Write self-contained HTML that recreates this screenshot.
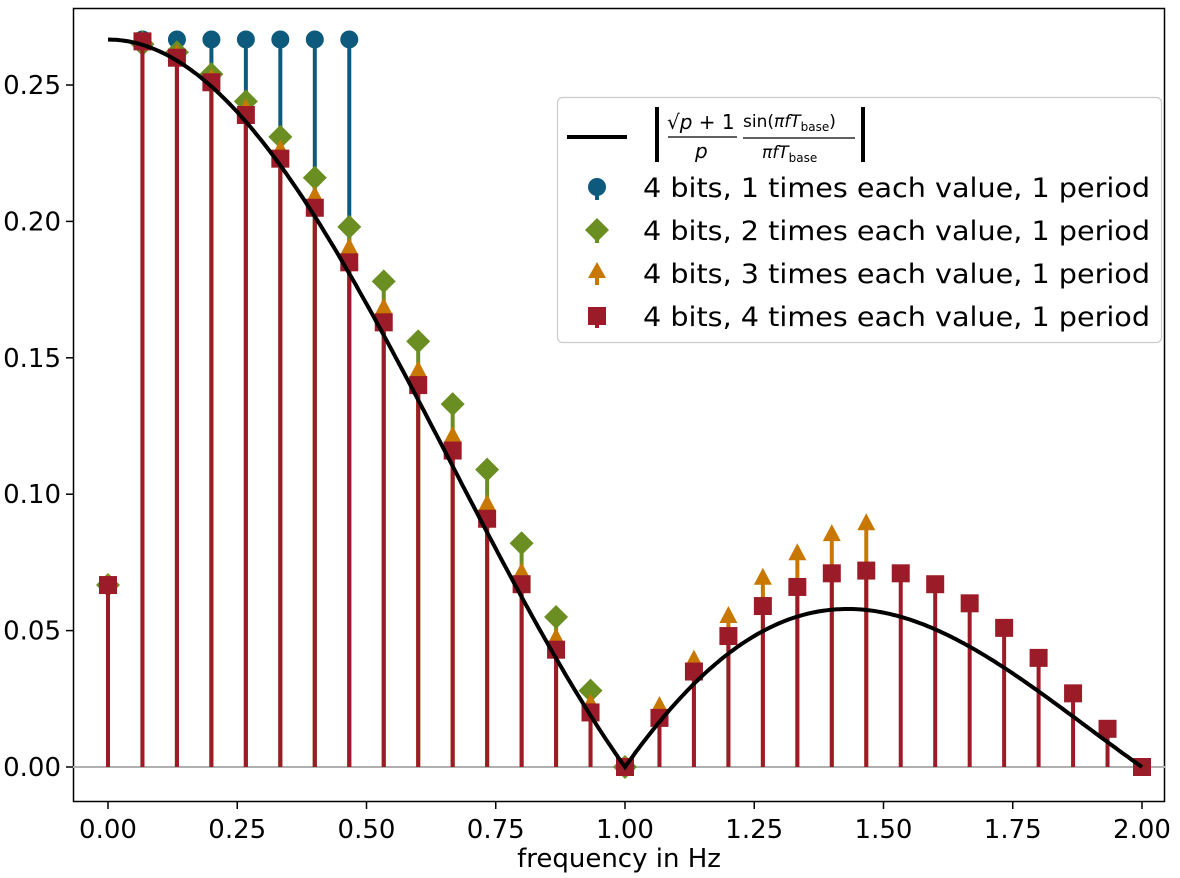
<!DOCTYPE html>
<html><head><meta charset="utf-8"><style>
body{margin:0;background:#fff;}
svg{display:block;font-family:"DejaVu Sans","Liberation Sans",sans-serif;}
</style></head><body>
<svg id="chart" width="1180" height="878" viewBox="0 0 1180 878">
<rect x="73.5" y="8.5" width="1091" height="793" fill="#fff" stroke="#000" stroke-width="1.5"/>
<g id="grid"></g>
<g id="series"></g>
<g id="axes"></g>
<text x="619" y="867" font-size="26" text-anchor="middle">frequency in Hz</text>
<g>
<rect x="557.5" y="97.5" width="604" height="245" rx="5" fill="#fff" stroke="#ccc" stroke-width="1.2"/>
<g>
<line x1="567" y1="137" x2="627" y2="137" stroke="#000" stroke-width="4"/>
<rect x="655" y="107" width="4" height="55" fill="#000"/>
<rect x="861" y="107" width="4" height="55" fill="#000"/>
<text x="667" y="129" font-size="20"><tspan font-size="20">√</tspan><tspan font-style="italic">p</tspan> + 1</text>
<line x1="668" y1="137" x2="737" y2="137" stroke="#000" stroke-width="1.3"/>
<text x="695" y="158" font-size="20" font-style="italic">p</text>
<text x="743" y="127" font-size="17">sin(<tspan font-style="italic">πfT</tspan><tspan font-size="12" dy="4">base</tspan><tspan dy="-4">)</tspan></text>
<line x1="743" y1="138" x2="855" y2="138" stroke="#000" stroke-width="1.3"/>
<text x="762" y="158" font-size="17" font-style="italic">πfT<tspan font-style="normal" font-size="12" dy="4">base</tspan></text>
</g>
<g>
<line x1="597" y1="188" x2="597" y2="200" stroke="#0d5a7c" stroke-width="4"/><circle cx="597" cy="187" r="9" fill="#0d5a7c"/>
<text x="643" y="197" font-size="27" textLength="507" lengthAdjust="spacingAndGlyphs">4 bits, 1 times each value, 1 period</text></g>
<g>
<line x1="597" y1="231" x2="597" y2="243" stroke="#6b8e23" stroke-width="4"/><polygon points="597,218 609,230 597,242 585,230" fill="#6b8e23"/>
<text x="643" y="240" font-size="27" textLength="507" lengthAdjust="spacingAndGlyphs">4 bits, 2 times each value, 1 period</text></g>
<g>
<line x1="597" y1="273" x2="597" y2="285" stroke="#c87800" stroke-width="4"/><polygon points="597,262 606,278 588,278" fill="#c87800"/>
<text x="643" y="283" font-size="27" textLength="507" lengthAdjust="spacingAndGlyphs">4 bits, 3 times each value, 1 period</text></g>
<g>
<line x1="597" y1="316" x2="597" y2="328" stroke="#9b1c28" stroke-width="4"/><rect x="588" y="307" width="18" height="18" fill="#9b1c28"/>
<text x="643" y="326" font-size="27" textLength="507" lengthAdjust="spacingAndGlyphs">4 bits, 4 times each value, 1 period</text></g>
</g>
</svg>
<script>
const xTicks=[0,0.25,0.5,0.75,1.0,1.25,1.5,1.75,2.0];
const yTicks=[0,0.05,0.10,0.15,0.20,0.25];
const freqStep=1/15;
const blueVals=[0.0667,0.2667,0.2667,0.2667,0.2667,0.2667,0.2667,0.2667];
const greenVals=[0.0667,0.265,0.262,0.254,0.244,0.231,0.216,0.198,0.178,0.156,0.133,0.109,0.082,0.055,0.028,0];
const orangeVals=[0.0667,0.266,0.261,0.252,0.241,0.226,0.209,0.190,0.168,0.145,0.121,0.096,0.071,0.047,0.023,0,0.022,0.039,0.055,0.069,0.078,0.085,0.089];
const redVals=[0.0667,0.266,0.260,0.251,0.239,0.223,0.205,0.185,0.163,0.140,0.116,0.091,0.067,0.043,0.020,0,0.018,0.035,0.048,0.059,0.066,0.071,0.072,0.071,0.067,0.060,0.051,0.040,0.027,0.014,0];
const pBits=15;
const NS='http://www.w3.org/2000/svg';
const X=v=>108+v*517, Y=v=>767-v*2728;
function mk(tag,attrs,parent){const e=document.createElementNS(NS,tag);for(const k in attrs)e.setAttribute(k,attrs[k]);parent.appendChild(e);return e;}
const axes=document.getElementById('axes'), ser=document.getElementById('series'), grid=document.getElementById('grid');
const base=mk('line',{x1:73,x2:1165,y1:Y(0),y2:Y(0),stroke:'#b0b0b0','stroke-width':2},grid);


xTicks.forEach(t=>{
 const g=mk('g',{},axes);
 
 
 mk('line',{x1:X(t),x2:X(t),y1:802,y2:809,stroke:'#000','stroke-width':1.5},g);
 const tx=mk('text',{x:X(t),y:838,'font-size':26,'text-anchor':'middle'},g);tx.textContent=t.toFixed(2);
});
yTicks.forEach(t=>{
 const g=mk('g',{},axes);
 
 
 mk('line',{x1:66,x2:73,y1:Y(t),y2:Y(t),stroke:'#000','stroke-width':1.5},g);
 const tx=mk('text',{x:61,y:Y(t)+9,'font-size':26,'text-anchor':'end'},g);tx.textContent=t.toFixed(2);
});
function series(vals,color,shape,name){
 const g=mk('g',{},ser);
 
 
 vals.forEach((v,i)=>{
  const x=X(i*freqStep), y=Y(v);
  mk('line',{x1:x,x2:x,y1:Y(0),y2:y,stroke:color,'stroke-width':4},g);
 });
 vals.forEach((v,i)=>{
  const x=X(i*freqStep), y=Y(v); let m;
  if(shape==='circle') m=mk('circle',{cx:x,cy:y,r:9,fill:color},g);
  else if(shape==='diamond') m=mk('polygon',{points:`${x},${y-12} ${x+12},${y} ${x},${y+12} ${x-12},${y}`,fill:color},g);
  else if(shape==='tri') m=mk('polygon',{points:`${x},${y-11} ${x+9},${y+6} ${x-9},${y+6}`,fill:color},g);
  else m=mk('rect',{x:x-9,y:y-9,width:18,height:18,fill:color},g);
  
  
 });
}
series(blueVals,'#0d5a7c','circle','series-1-times');
series(greenVals,'#6b8e23','diamond','series-2-times');
series(orangeVals,'#c87800','tri','series-3-times');
series(redVals,'#9b1c28','square','series-4-times');
let d='';
for(let i=0;i<=400;i++){const f=i*2/400;const s=f===0?1:Math.sin(Math.PI*f)/(Math.PI*f);const v=Math.abs(Math.sqrt(pBits+1)/pBits*s);d+=(i?'L':'M')+X(f).toFixed(1)+','+Y(v).toFixed(1);}
const curve=mk('path',{d:d,fill:'none',stroke:'#000','stroke-width':4},ser);


</script>
</body></html>
